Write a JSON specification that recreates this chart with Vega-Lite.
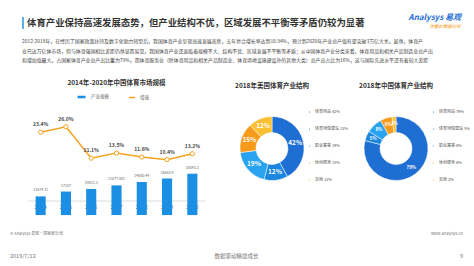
{
  "$schema": "https://vega.github.io/schema/vega-lite/v6.json",
  "background": "white",
  "padding": {"left": 10, "top": 14, "right": 4, "bottom": 2},
  "config": {"font": "Noto Sans CJK SC", "view": {"stroke": null}},
  "spacing": 16.5,
  "vconcat": [
    {
      "width": 453,
      "height": 38,
      "data": {"values": [
        {"col": "a", "line": "t", "kind": "title", "text": "体育产业保持高速发展态势，但产业结构不优，区域发展不平衡等矛盾仍较为显著"},
        {"col": "a", "line": "t", "kind": "logo", "text": "Analysys 易观"},
        {"col": "a", "line": "t", "kind": "slogan", "text": "你要的数据分析"},
        {"col": "a", "line": "p1", "kind": "para", "text": "2012-2018年，在经历了国家政策扶持及数字化助力转型后，我国体育产业呈现高速发展态势，五年复合增长率达到18.94%，预计到2020年产业总产值有望突破3万亿大关。虽然，体育产"},
        {"col": "a", "line": "p2", "kind": "para", "text": "业已达万亿体市场，但与体育强国相比差距仍然显而易见，我国体育产业还面临着规模不大、结构不优、区域发展不平衡等矛盾；从中国体育产业分类来看，体育用品和相关产品制造业总产出"},
        {"col": "a", "line": "p3", "kind": "para", "text": "和增加值最大，占国家体育产业总产出比重为79%，而体育服务业（除体育用品和相关产品制造业、体育场地设施建设外的其他大类）总产出占比为16%，这与国际先进水平还有着较大差距"}
      ]},
      "encoding": {
        "y": {"field": "line", "type": "nominal", "scale": {"type": "point", "domain": ["t", "g", "p1", "p2", "p3"], "padding": 0}, "axis": null},
        "x": {"field": "col", "type": "nominal", "scale": {"type": "band", "paddingInner": 0, "paddingOuter": 0}, "bandPosition": 0, "axis": null}
      },
      "layer": [
        {
          "transform": [{"filter": "datum.kind === 'title'"}],
          "mark": {"type": "tick", "orient": "vertical", "thickness": 2, "size": 12, "color": "#1a8fe3", "xOffset": 13}
        },
        {
          "transform": [{"filter": "datum.kind === 'title'"}],
          "mark": {"type": "text", "align": "left", "fontSize": 9.4, "fontWeight": "bold", "color": "#333333", "dx": 17},
          "encoding": {"text": {"field": "text"}}
        },
        {
          "transform": [{"filter": "datum.kind === 'para'"}],
          "mark": {"type": "text", "align": "left", "fontSize": 4.9, "color": "#444444", "dx": 12},
          "encoding": {"text": {"field": "text"}}
        },
        {
          "transform": [{"filter": "datum.kind === 'logo'"}],
          "mark": {"type": "text", "align": "right", "fontSize": 8, "fontWeight": "bold", "fontStyle": "italic", "color": "#1f6ed4", "dy": -5, "dx": -2},
          "encoding": {"text": {"field": "text"}, "x": {"field": "col", "type": "nominal", "scale": {"type": "band", "paddingInner": 0, "paddingOuter": 0}, "bandPosition": 1, "axis": null}}
        },
        {
          "transform": [{"filter": "datum.kind === 'slogan'"}],
          "mark": {"type": "text", "align": "right", "fontSize": 4.5, "fontStyle": "italic", "color": "#f59a1b", "dy": 4, "dx": -2},
          "encoding": {"text": {"field": "text"}, "x": {"field": "col", "type": "nominal", "scale": {"type": "band", "paddingInner": 0, "paddingOuter": 0}, "bandPosition": 1, "axis": null}}
        }
      ]
    },
    {
      "spacing": 10,
      "hconcat": [
        {
          "width": 215,
          "height": 91,
          "title": {"text": "2014年-2020年中国体育市场规模", "fontSize": 6.5, "fontWeight": "bold", "color": "#333333", "offset": 7, "dx": -1},
          "data": {"values": [
            {"year": "2014", "size": 13574.71, "sizeLabel": "13574.71", "growth": 23.4, "growthLabel": "23.4%"},
            {"year": "2015", "size": 17107, "sizeLabel": "17107", "growth": 26.0, "growthLabel": "26.0%"},
            {"year": "2016", "size": 19011.3, "sizeLabel": "19011.3", "growth": 11.1, "growthLabel": "11.1%"},
            {"year": "2017", "size": 21577.882, "sizeLabel": "21577.882", "growth": 13.5, "growthLabel": "13.5%"},
            {"year": "2018", "size": 24080.44, "sizeLabel": "24080.44", "growth": 11.6, "growthLabel": "11.6%"},
            {"year": "2019", "size": 26583.4, "sizeLabel": "26583.4", "growth": 10.4, "growthLabel": "10.4%"},
            {"year": "2020", "size": 30093.3, "sizeLabel": "30093.3", "growth": 13.2, "growthLabel": "13.2%"}
          ]},
          "encoding": {
            "x": {"field": "year", "type": "ordinal", "scale": {"paddingInner": 0.6, "paddingOuter": 0.3, "range": [18, 195]},
                  "axis": {"title": null, "labelAngle": 0, "labelFontSize": 5.5, "labelColor": "#666666", "ticks": false, "domainColor": "#dddddd", "labelPadding": 4}}
          },
          "layer": [
            {
              "mark": {"type": "bar"},
              "encoding": {
                "y": {"field": "size", "type": "quantitative", "scale": {"domain": [10600, 76800]}, "axis": null},
                "fill": {"datum": "产业规模", "scale": {"range": ["#1a8fe3"]},
                         "legend": {"title": null, "orient": "none", "legendX": 68, "legendY": -16, "symbolType": "M-1.6,-0.5H1.6V0.5H-1.6Z", "symbolSize": 25, "labelFontSize": 4.5, "labelColor": "#666666", "labelOffset": 6}}
              }
            },
            {
              "mark": {"type": "text", "fontSize": 3.6, "color": "#666666", "dy": -6},
              "encoding": {
                "y": {"field": "size", "type": "quantitative", "scale": {"domain": [10600, 76800]}, "axis": null},
                "text": {"field": "sizeLabel"}
              }
            },
            {
              "mark": {"type": "line", "strokeWidth": 1.5},
              "encoding": {
                "y": {"field": "growth", "type": "quantitative", "scale": {"domain": [-9, 34.2]}, "axis": null},
                "stroke": {"datum": "增速", "scale": {"range": ["#f6a21e"]},
                           "legend": {"title": null, "orient": "none", "legendX": 118, "legendY": -16, "symbolType": "stroke", "symbolSize": 40, "symbolStrokeWidth": 1.5, "labelFontSize": 4.5, "labelColor": "#666666"}}
              }
            },
            {
              "mark": {"type": "point", "filled": true, "fill": "white", "stroke": "#f6a21e", "strokeWidth": 1, "size": 18, "opacity": 1},
              "encoding": {
                "y": {"field": "growth", "type": "quantitative", "scale": {"domain": [-9, 34.2]}, "axis": null}
              }
            },
            {
              "mark": {"type": "text", "fontSize": 5, "fontWeight": "bold", "color": "#444444", "dy": -8},
              "encoding": {
                "y": {"field": "growth", "type": "quantitative", "scale": {"domain": [-9, 34.2]}, "axis": null},
                "text": {"field": "growthLabel"}
              }
            }
          ],
          "resolve": {"scale": {"y": "independent", "fill": "independent", "stroke": "independent"}}
        },
        {
          "width": 64,
          "height": 78,
          "title": {"text": "2018年美国体育产业结构", "fontSize": 6.5, "fontWeight": "bold", "color": "#333333", "offset": 20},
          "data": {"values": [
            {"cat": "体育用品 42%", "pct": 42, "lab": "42%", "k": 1},
            {"cat": "体育场馆建设 12%", "pct": 12, "lab": "12%", "k": 2},
            {"cat": "职业赛事 19%", "pct": 19, "lab": "19%", "k": 3},
            {"cat": "休闲健身 15%", "pct": 15, "lab": "15%", "k": 4},
            {"cat": "其他 12%", "pct": 12, "lab": "12%", "k": 5}
          ]},
          "encoding": {
            "theta": {"field": "pct", "type": "quantitative", "stack": true},
            "order": {"field": "k", "type": "quantitative"}
          },
          "layer": [
            {
              "mark": {"type": "arc", "outerRadius": 32, "innerRadius": 16, "stroke": "white", "strokeWidth": 0.5},
              "encoding": {
                "color": {"field": "cat", "type": "nominal", "sort": null,
                          "scale": {"domain": ["体育用品 42%", "体育场馆建设 12%", "职业赛事 19%", "休闲健身 15%", "其他 12%"], "range": ["#1f6ed4", "#1a86e0", "#29a3ef", "#f59a1b", "#fbbf33"]},
                          "legend": {"title": null, "orient": "right", "offset": 3, "symbolType": "circle", "symbolSize": 7, "labelFontSize": 4, "labelOffset": 3, "labelColor": "#555555", "rowPadding": 8}}
              }
            },
            {
              "mark": {"type": "text", "radius": 24, "fontSize": 6.5, "fontWeight": "bold", "color": "white"},
              "encoding": {"text": {"field": "lab"}}
            }
          ]
        },
        {
          "width": 64,
          "height": 78,
          "title": {"text": "2018年中国体育产业结构", "fontSize": 6.5, "fontWeight": "bold", "color": "#333333", "offset": 20},
          "data": {"values": [
            {"cat": "体育用品 79%", "pct": 79, "lab": "79%", "k": 1},
            {"cat": "体育场馆建设 5%", "pct": 5, "lab": "5%", "k": 2},
            {"cat": "职业赛事 8%", "pct": 8, "lab": "8%", "k": 3},
            {"cat": "休闲健身 6%", "pct": 6, "lab": "6%", "k": 4},
            {"cat": "其他 2%", "pct": 2, "lab": "2%", "k": 5}
          ]},
          "encoding": {
            "theta": {"field": "pct", "type": "quantitative", "stack": true},
            "order": {"field": "k", "type": "quantitative"}
          },
          "layer": [
            {
              "mark": {"type": "arc", "outerRadius": 32, "innerRadius": 16, "stroke": "white", "strokeWidth": 0.5},
              "encoding": {
                "color": {"field": "cat", "type": "nominal", "sort": null,
                          "scale": {"domain": ["体育用品 79%", "体育场馆建设 5%", "职业赛事 8%", "休闲健身 6%", "其他 2%"], "range": ["#1f6ed4", "#1a86e0", "#29a3ef", "#f59a1b", "#fbbf33"]},
                          "legend": {"title": null, "orient": "right", "offset": 3, "symbolType": "circle", "symbolSize": 7, "labelFontSize": 4, "labelOffset": 3, "labelColor": "#555555", "rowPadding": 8}}
              }
            },
            {
              "mark": {"type": "text", "radius": 25, "fontSize": 4.5, "fontWeight": "bold", "color": "white"},
              "encoding": {"text": {"field": "lab"}}
            }
          ]
        }
      ],
      "resolve": {"scale": {"color": "independent"}}
    },
    {
      "width": 453,
      "height": 22.4,
      "data": {"values": [
        {"pos": "left", "row": "source", "text": "© Analysys 易观·国家统计局"},
        {"pos": "right", "row": "source", "text": "www.analysys.cn"},
        {"pos": "left", "row": "page", "text": "2019/7/12"},
        {"pos": "center", "row": "page", "text": "数据驱动精益成长"},
        {"pos": "right", "row": "page", "text": "9"}
      ]},
      "encoding": {
        "x": {"field": "pos", "type": "nominal", "scale": {"type": "point", "domain": ["left", "center", "right"], "padding": 0}, "axis": null},
        "y": {"field": "row", "type": "nominal", "scale": {"type": "point", "domain": ["source", "page"], "padding": 0}, "axis": null},
        "size": {"field": "row", "type": "nominal", "scale": {"domain": ["source", "page"], "range": [4, 5.5]}, "legend": null},
        "text": {"field": "text"}
      },
      "layer": [
        {"transform": [{"filter": "datum.pos === 'left'"}], "mark": {"type": "text", "align": "left", "color": "#777777"}},
        {"transform": [{"filter": "datum.pos === 'center'"}], "mark": {"type": "text", "align": "center", "color": "#777777"}},
        {"transform": [{"filter": "datum.pos === 'right'"}], "mark": {"type": "text", "align": "right", "color": "#777777"}}
      ]
    }
  ]
}
